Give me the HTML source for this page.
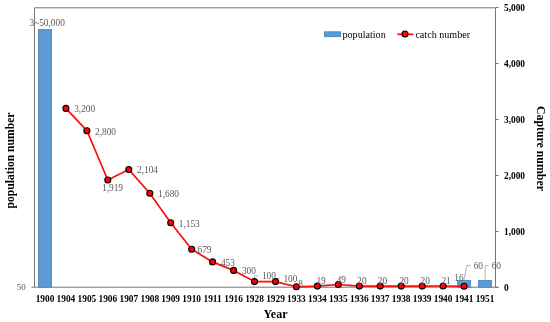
<!DOCTYPE html><html><head><meta charset="utf-8"><title>chart</title>
<style>html,body{margin:0;padding:0;background:#fff}svg{display:block}text{font-family:"Liberation Serif",serif}</style></head><body>
<svg width="550" height="322" viewBox="0 0 550 322">
<rect width="550" height="322" fill="#fff"/>
<path d="M34.5 287.2V7.8H495.5V287.2" fill="none" stroke="#767676" stroke-width="1"/>
<path d="M31.5 287.2H498.5" fill="none" stroke="#767676" stroke-width="1"/>
<path d="M495.5 287.5h3" stroke="#767676" stroke-width="1"/>
<text x="504" y="290.7" font-size="9.33" font-weight="bold" fill="#000">0</text>
<path d="M495.5 231.5h3" stroke="#767676" stroke-width="1"/>
<text x="504" y="234.7" font-size="9.33" font-weight="bold" fill="#000">1,000</text>
<path d="M495.5 175.5h3" stroke="#767676" stroke-width="1"/>
<text x="504" y="178.7" font-size="9.33" font-weight="bold" fill="#000">2,000</text>
<path d="M495.5 119.5h3" stroke="#767676" stroke-width="1"/>
<text x="504" y="122.7" font-size="9.33" font-weight="bold" fill="#000">3,000</text>
<path d="M495.5 63.5h3" stroke="#767676" stroke-width="1"/>
<text x="504" y="66.7" font-size="9.33" font-weight="bold" fill="#000">4,000</text>
<path d="M495.5 7.5h3" stroke="#767676" stroke-width="1"/>
<text x="504" y="10.7" font-size="9.33" font-weight="bold" fill="#000">5,000</text>
<rect x="38.38" y="29.5" width="13.2" height="257.70" fill="#5b9bd5" stroke="#4a80b5" stroke-width="0.8"/>
<rect x="457.47" y="280.5" width="13.2" height="6.70" fill="#5b9bd5" stroke="#4a80b5" stroke-width="0.8"/>
<rect x="478.42" y="280.5" width="13.2" height="6.70" fill="#5b9bd5" stroke="#4a80b5" stroke-width="0.8"/>
<text x="25.8" y="289.9" font-size="9" fill="#595959" text-anchor="end">50</text>
<text x="29.5" y="25.8" font-size="9.33" fill="#595959">3~50,000</text>
<text x="45.0" y="302" font-size="9.33" font-weight="bold" fill="#000" text-anchor="middle">1900</text>
<text x="65.9" y="302" font-size="9.33" font-weight="bold" fill="#000" text-anchor="middle">1904</text>
<text x="86.9" y="302" font-size="9.33" font-weight="bold" fill="#000" text-anchor="middle">1905</text>
<text x="107.8" y="302" font-size="9.33" font-weight="bold" fill="#000" text-anchor="middle">1906</text>
<text x="128.8" y="302" font-size="9.33" font-weight="bold" fill="#000" text-anchor="middle">1907</text>
<text x="149.8" y="302" font-size="9.33" font-weight="bold" fill="#000" text-anchor="middle">1908</text>
<text x="170.7" y="302" font-size="9.33" font-weight="bold" fill="#000" text-anchor="middle">1909</text>
<text x="191.7" y="302" font-size="9.33" font-weight="bold" fill="#000" text-anchor="middle">1910</text>
<text x="212.6" y="302" font-size="9.33" font-weight="bold" fill="#000" text-anchor="middle">1911</text>
<text x="233.6" y="302" font-size="9.33" font-weight="bold" fill="#000" text-anchor="middle">1916</text>
<text x="254.5" y="302" font-size="9.33" font-weight="bold" fill="#000" text-anchor="middle">1928</text>
<text x="275.5" y="302" font-size="9.33" font-weight="bold" fill="#000" text-anchor="middle">1929</text>
<text x="296.4" y="302" font-size="9.33" font-weight="bold" fill="#000" text-anchor="middle">1933</text>
<text x="317.4" y="302" font-size="9.33" font-weight="bold" fill="#000" text-anchor="middle">1934</text>
<text x="338.3" y="302" font-size="9.33" font-weight="bold" fill="#000" text-anchor="middle">1935</text>
<text x="359.3" y="302" font-size="9.33" font-weight="bold" fill="#000" text-anchor="middle">1936</text>
<text x="380.2" y="302" font-size="9.33" font-weight="bold" fill="#000" text-anchor="middle">1937</text>
<text x="401.2" y="302" font-size="9.33" font-weight="bold" fill="#000" text-anchor="middle">1938</text>
<text x="422.2" y="302" font-size="9.33" font-weight="bold" fill="#000" text-anchor="middle">1939</text>
<text x="443.1" y="302" font-size="9.33" font-weight="bold" fill="#000" text-anchor="middle">1940</text>
<text x="464.1" y="302" font-size="9.33" font-weight="bold" fill="#000" text-anchor="middle">1941</text>
<text x="485.0" y="302" font-size="9.33" font-weight="bold" fill="#000" text-anchor="middle">1951</text>
<text x="275.5" y="318" font-size="12" font-weight="bold" fill="#000" text-anchor="middle">Year</text>
<text transform="translate(13.5,160.5) rotate(-90)" font-size="11.65" font-weight="bold" fill="#000" text-anchor="middle">population number</text>
<text transform="translate(536.5,148.4) rotate(90)" font-size="11.85" font-weight="bold" fill="#000" text-anchor="middle">Capture number</text>
<path d="M464.2 279.5L466.8 265.6H470.5" fill="none" stroke="#b0b0b0" stroke-width="1"/>
<path d="M485.2 279.5V265.6H488.5" fill="none" stroke="#b0b0b0" stroke-width="1"/>
<path d="M254.4 278.4L254.7 276H258" fill="none" stroke="#b0b0b0" stroke-width="0.9"/>
<path d="M276 279.6L277.2 278.4H280.5" fill="none" stroke="#b0b0b0" stroke-width="0.9"/>
<path d="M65.9 108.4L86.9 130.7L107.8 180.0L128.8 169.6L149.8 193.3L170.7 222.8L191.7 249.3L212.6 261.9L233.6 270.4L254.5 281.6L275.5 281.6L296.4 286.8L317.4 286.1L338.3 284.5L359.3 286.1L380.2 286.1L401.2 286.1L422.2 286.1L443.1 286.0L464.1 286.3" fill="none" stroke="#ff0d0d" stroke-width="1.7" stroke-linejoin="round"/>
<circle cx="65.9" cy="108.4" r="3" fill="#ff0000" stroke="#000" stroke-width="1.1"/>
<circle cx="86.9" cy="130.7" r="3" fill="#ff0000" stroke="#000" stroke-width="1.1"/>
<circle cx="107.8" cy="180.0" r="3" fill="#ff0000" stroke="#000" stroke-width="1.1"/>
<circle cx="128.8" cy="169.6" r="3" fill="#ff0000" stroke="#000" stroke-width="1.1"/>
<circle cx="149.8" cy="193.3" r="3" fill="#ff0000" stroke="#000" stroke-width="1.1"/>
<circle cx="170.7" cy="222.8" r="3" fill="#ff0000" stroke="#000" stroke-width="1.1"/>
<circle cx="191.7" cy="249.3" r="3" fill="#ff0000" stroke="#000" stroke-width="1.1"/>
<circle cx="212.6" cy="261.9" r="3" fill="#ff0000" stroke="#000" stroke-width="1.1"/>
<circle cx="233.6" cy="270.4" r="3" fill="#ff0000" stroke="#000" stroke-width="1.1"/>
<circle cx="254.5" cy="281.6" r="3" fill="#ff0000" stroke="#000" stroke-width="1.1"/>
<circle cx="275.5" cy="281.6" r="3" fill="#ff0000" stroke="#000" stroke-width="1.1"/>
<circle cx="296.4" cy="286.8" r="3" fill="#ff0000" stroke="#000" stroke-width="1.1"/>
<circle cx="317.4" cy="286.1" r="3" fill="#ff0000" stroke="#000" stroke-width="1.1"/>
<circle cx="338.3" cy="284.5" r="3" fill="#ff0000" stroke="#000" stroke-width="1.1"/>
<circle cx="359.3" cy="286.1" r="3" fill="#ff0000" stroke="#000" stroke-width="1.1"/>
<circle cx="380.2" cy="286.1" r="3" fill="#ff0000" stroke="#000" stroke-width="1.1"/>
<circle cx="401.2" cy="286.1" r="3" fill="#ff0000" stroke="#000" stroke-width="1.1"/>
<circle cx="422.2" cy="286.1" r="3" fill="#ff0000" stroke="#000" stroke-width="1.1"/>
<circle cx="443.1" cy="286.0" r="3" fill="#ff0000" stroke="#000" stroke-width="1.1"/>
<circle cx="464.1" cy="286.3" r="3" fill="#ff0000" stroke="#000" stroke-width="1.1"/>
<text x="74.2" y="111.9" font-size="9.33" fill="#595959">3,200</text>
<text x="95" y="135.0" font-size="9.33" fill="#595959">2,800</text>
<text x="102" y="190.8" font-size="9.33" fill="#595959">1,919</text>
<text x="137" y="173.3" font-size="9.33" fill="#595959">2,104</text>
<text x="158" y="196.8" font-size="9.33" fill="#595959">1,680</text>
<text x="178.8" y="226.9" font-size="9.33" fill="#595959">1,153</text>
<text x="197.5" y="252.7" font-size="9.33" fill="#595959">679</text>
<text x="220.9" y="265.8" font-size="9.33" fill="#595959">453</text>
<text x="241.9" y="274.2" font-size="9.33" fill="#595959">300</text>
<text x="261.9" y="279.3" font-size="9.33" fill="#595959">100</text>
<text x="283.4" y="281.9" font-size="9.33" fill="#595959">100</text>
<text x="298.2" y="286.9" font-size="9.33" fill="#595959">8</text>
<text x="316.4" y="284.1" font-size="9.33" fill="#595959">19</text>
<text x="336.7" y="283.4" font-size="9.33" fill="#595959">49</text>
<text x="357.3" y="284.2" font-size="9.33" fill="#595959">20</text>
<text x="377.8" y="283.9" font-size="9.33" fill="#595959">20</text>
<text x="399.4" y="284.4" font-size="9.33" fill="#595959">20</text>
<text x="420.6" y="283.8" font-size="9.33" fill="#595959">20</text>
<text x="441.4" y="283.8" font-size="9.33" fill="#595959">21</text>
<text x="454.3" y="281.2" font-size="9.33" fill="#595959">16</text>
<text x="473.7" y="269.1" font-size="9.33" fill="#595959">60</text>
<text x="491.7" y="269.1" font-size="9.33" fill="#595959">60</text>
<rect x="324.4" y="31.8" width="16.2" height="4.9" fill="#5b9bd5" stroke="#4a80b5" stroke-width="0.8"/>
<text x="342.5" y="37.6" font-size="10.1" fill="#000">population</text>
<path d="M397.2 34.3H413.4" stroke="#ff0d0d" stroke-width="1.7"/>
<circle cx="405.0" cy="34.0" r="3" fill="#ff0000" stroke="#000" stroke-width="1.1"/>
<text x="415.4" y="37.6" font-size="10.1" fill="#000">catch number</text>
</svg></body></html>
